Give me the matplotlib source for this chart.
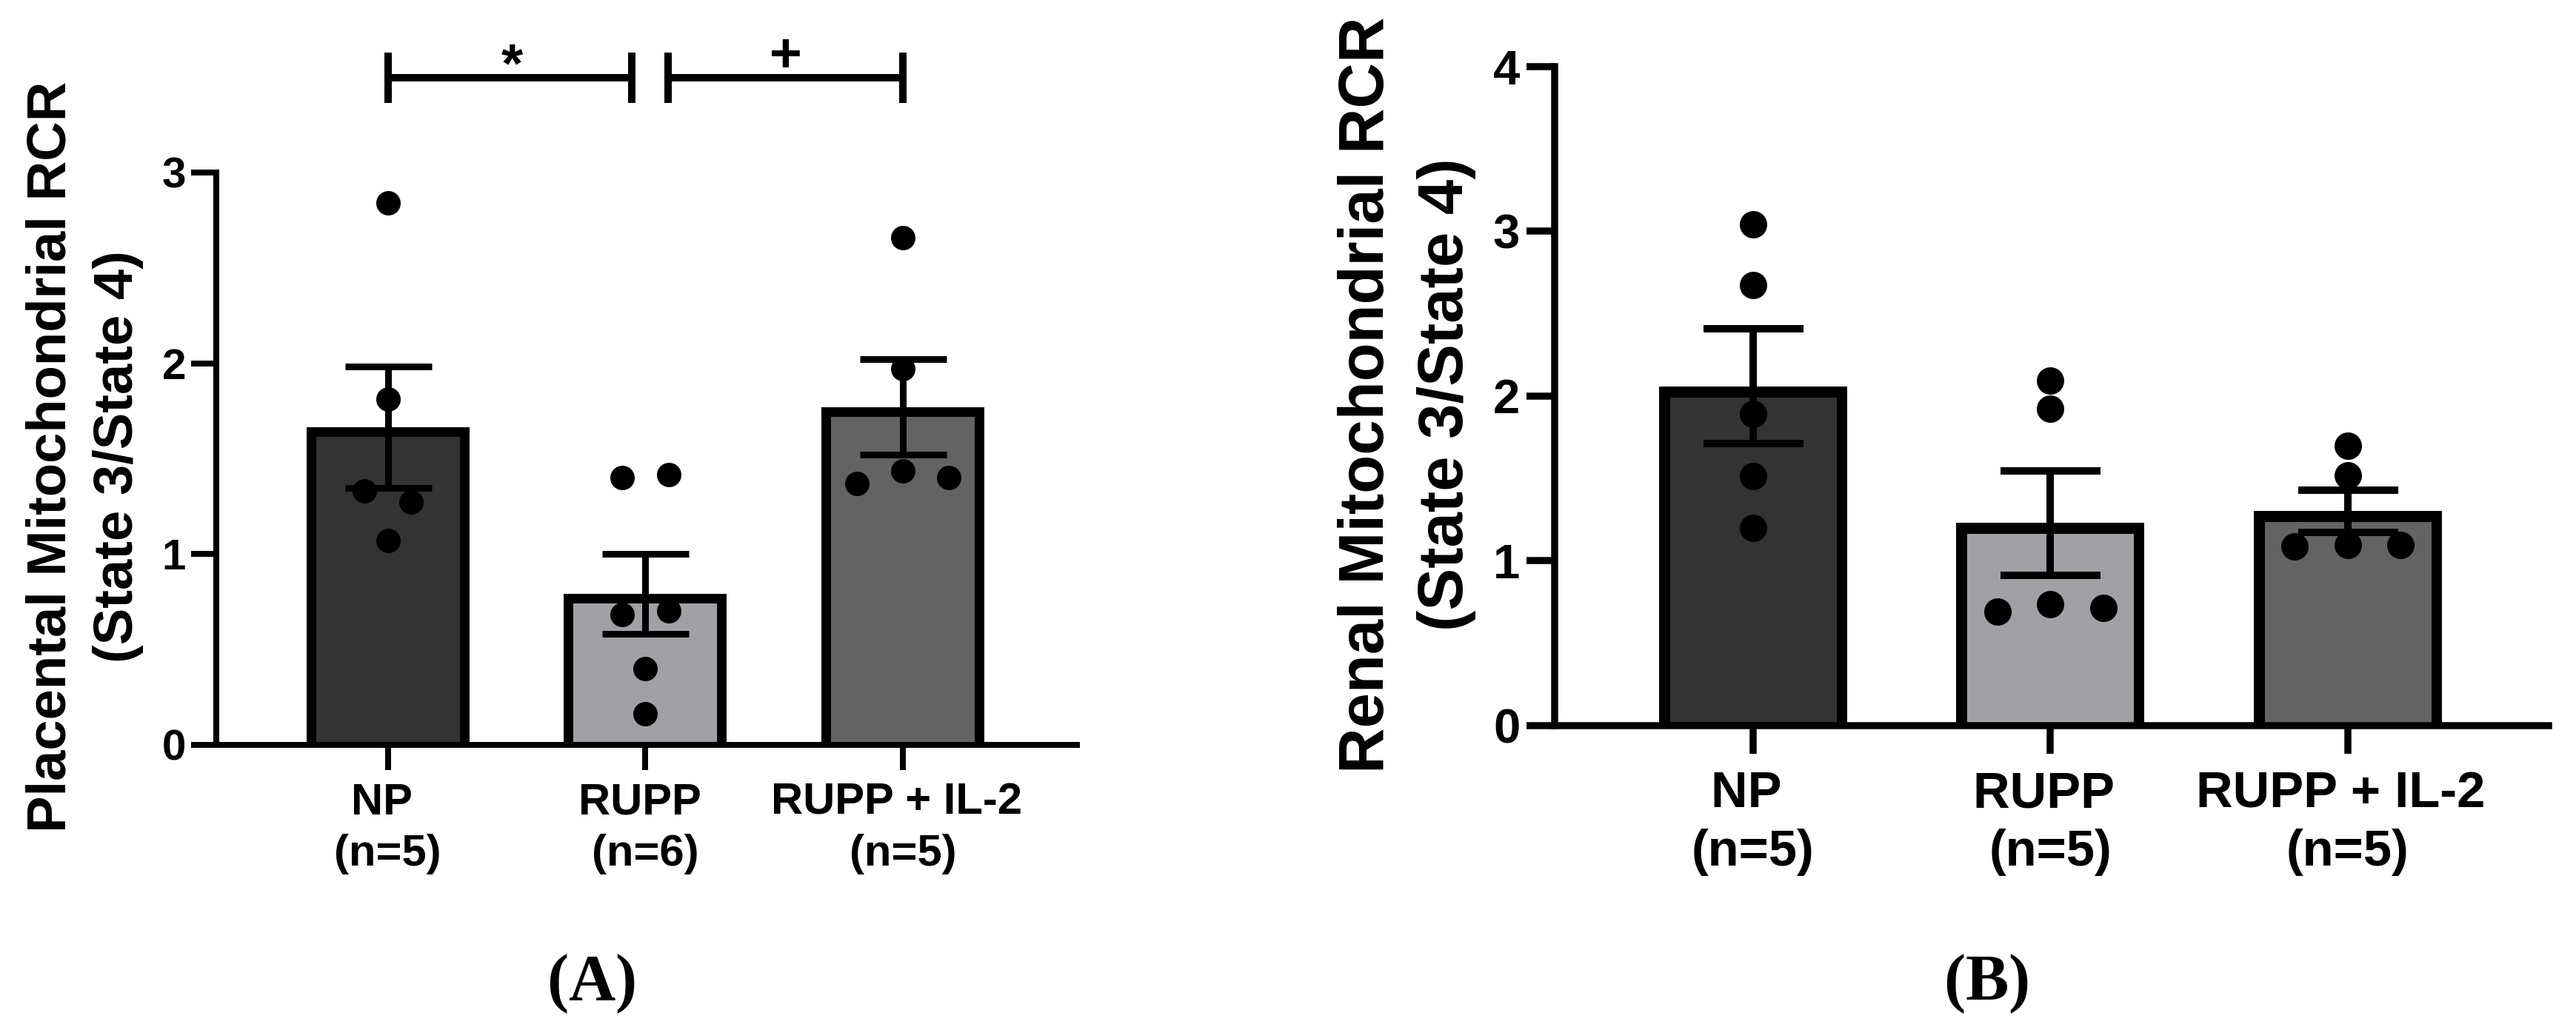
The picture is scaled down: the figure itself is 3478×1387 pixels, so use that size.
import numpy as np
import matplotlib
matplotlib.use('Agg')
import matplotlib.pyplot as plt

plt.rcParams['font.family'] = ['Liberation Sans', 'DejaVu Sans']
plt.rcParams['font.weight'] = 'bold'
plt.rcParams['mathtext.fontset'] = 'custom'
plt.rcParams['mathtext.rm'] = 'Liberation Serif'
plt.rcParams['mathtext.bf'] = 'Liberation Serif:bold'

# ---------------- data ----------------
groups = ['NP', 'RUPP', 'RUPP + IL-2']
bar_colors = ['#333333', '#a1a0a5', '#636363']

# Panel A (placental mitochondria)
a_n = [5, 6, 5]
a_means = [1.665, 0.79, 1.77]
a_sem = [0.319, 0.21, 0.25]
a_points = [[2.84, 1.81, 1.33, 1.27, 1.07],
            [1.40, 1.417, 0.68, 0.70, 0.40, 0.16],
            [2.66, 1.97, 1.435, 1.37, 1.40]]
a_jitter = [[0, 0, -0.092, 0.09, 0],
            [-0.09, 0.092, -0.09, 0.09, 0, 0],
            [0, 0, 0, -0.178, 0.178]]
a_yticks = [0, 1, 2, 3]
a_ylabel = 'Placental Mitochondrial RCR\n(State 3/State 4)'
# significance brackets: (x start, x end, symbol)
a_brackets = [(0.0, 0.9475, '*'), (1.088, 2.0, '+')]

# Panel B (renal mitochondria)
b_n = [5, 5, 5]
b_means = [2.059, 1.228, 1.30]
b_sem = [0.349, 0.318, 0.127]
b_points = [[3.04, 2.672, 1.891, 1.515, 1.197],
            [2.093, 1.923, 0.69, 0.735, 0.715],
            [1.697, 1.518, 1.087, 1.095, 1.095]]
b_jitter = [[0, 0, 0, 0, 0],
            [0, 0, -0.176, 0, 0.18],
            [0, 0, -0.178, 0, 0.178]]
b_yticks = [0, 1, 2, 3, 4]
b_ylabel = 'Renal Mitochondrial RCR\n(State 3/State 4)'

# ---------------- figure ----------------
W, H = 3478, 1387
PT = 0.72  # points per pixel at dpi 100
fig = plt.figure(figsize=(W / 100, H / 100), dpi=100)
fig.patch.set_facecolor('white')


def panel(ax, means, sems, points, jitter, ns, yticks, xlim,
          axis_px, tick_len_px, tick_w_px, tick_fs, xpad, ypad, xls,
          edge_px, err_px, cap_px, dot_px, bar_w=0.633):
    x = np.arange(len(groups))
    ax.set_xlim(*xlim)
    ax.set_ylim(yticks[0], yticks[-1])
    below = 0.3  # start bars below the axis so no bottom border shows
    bars = ax.bar(x, np.array(means) + below, bottom=-below, width=bar_w,
                  color=bar_colors, edgecolor='black',
                  linewidth=2 * edge_px * PT, zorder=2)
    for b in bars:  # keep the border inside the bar (GraphPad style)
        b.set_clip_path(b.get_path(), b.get_transform())
    ax.errorbar(x, means, yerr=sems, fmt='none', ecolor='black',
                elinewidth=err_px * PT, capsize=cap_px * PT,
                capthick=err_px * PT, zorder=3)
    for i, (pts, jit) in enumerate(zip(points, jitter)):
        ax.plot(i + np.array(jit), pts, 'o', color='black',
                markersize=dot_px * PT, markeredgewidth=0, zorder=4,
                clip_on=False)
    for s in ['top', 'right']:
        ax.spines[s].set_visible(False)
    for s in ['left', 'bottom']:
        ax.spines[s].set_linewidth(axis_px * PT)
        ax.spines[s].set_capstyle('projecting')
    ax.set_yticks(yticks)
    ax.set_yticklabels([str(t) for t in yticks], fontsize=tick_fs[1],
                       fontweight='bold')
    ax.set_xticks(x)
    ax.set_xticklabels([f'{g} \n(n={n})' for g, n in zip(groups, ns)],
                       fontsize=tick_fs[0], fontweight='bold', linespacing=xls)
    ax.tick_params(axis='both', direction='out', length=tick_len_px * PT,
                   width=tick_w_px * PT, color='black')
    ax.tick_params(axis='x', pad=xpad)
    ax.tick_params(axis='y', pad=ypad)
    ax.set_facecolor('none')


# Panel A
axA = fig.add_axes([292 / W, (H - 1005.5) / H, 1161.5 / W, 772.5 / H])
panel(axA, a_means, a_sem, a_points, a_jitter, a_n, a_yticks, (-0.666, 2.674),
      axis_px=8, tick_len_px=34, tick_w_px=8, tick_fs=(43, 42), xpad=12.5, ypad=5,
      xls=1.32, edge_px=13, err_px=9, cap_px=58.5, dot_px=33)

br_y, br_h = 3.497, 0.132
for x0, x1, sym in a_brackets:
    axA.plot([x0, x1], [br_y, br_y], color='black', lw=10 * PT,
             solid_capstyle='butt', clip_on=False)
    for xe in (x0, x1):
        axA.plot([xe, xe], [br_y - br_h, br_y + br_h], color='black',
                 lw=10 * PT, solid_capstyle='butt', clip_on=False)
    sym_y = 3.475 if sym == '*' else 3.528
    axA.text((x0 + x1) / 2 + (0.009 if sym == '*' else 0), sym_y, sym,
             ha='center', va='baseline', fontsize=54, fontweight='bold',
             clip_on=False)

fig.text(114.5 / W, 1 - 617 / H, a_ylabel, rotation=90, ha='center',
         va='center', fontsize=53.5, fontweight='bold', linespacing=1.39,
         multialignment='center')
fig.text(797.5 / W, 1 - 1350 / H, r'$\mathrm{(}\mathbf{A}\mathrm{)}$',
         ha='center', va='baseline', fontsize=63)

# Panel B
axB = fig.add_axes([2098.5 / W, (H - 979.5) / H, 1342.2 / W, 889.5 / H])
panel(axB, b_means, b_sem, b_points, b_jitter, b_n, b_yticks, (-0.6677, 2.675),
      axis_px=9.5, tick_len_px=38, tick_w_px=9.5, tick_fs=(49.5, 47), xpad=16.3, ypad=6,
      xls=1.29, edge_px=14.5, err_px=10, cap_px=67.5, dot_px=37)

fig.text(1899.5 / W, 1 - 533 / H, b_ylabel, rotation=90, ha='center',
         va='center', fontsize=61.3, fontweight='bold', linespacing=1.42,
         multialignment='center')
fig.text(2681.5 / W, 1 - 1350 / H, r'$\mathrm{(}\mathbf{B}\mathrm{)}$',
         ha='center', va='baseline', fontsize=63)

fig.savefig('out.png', dpi=100, facecolor='white')
